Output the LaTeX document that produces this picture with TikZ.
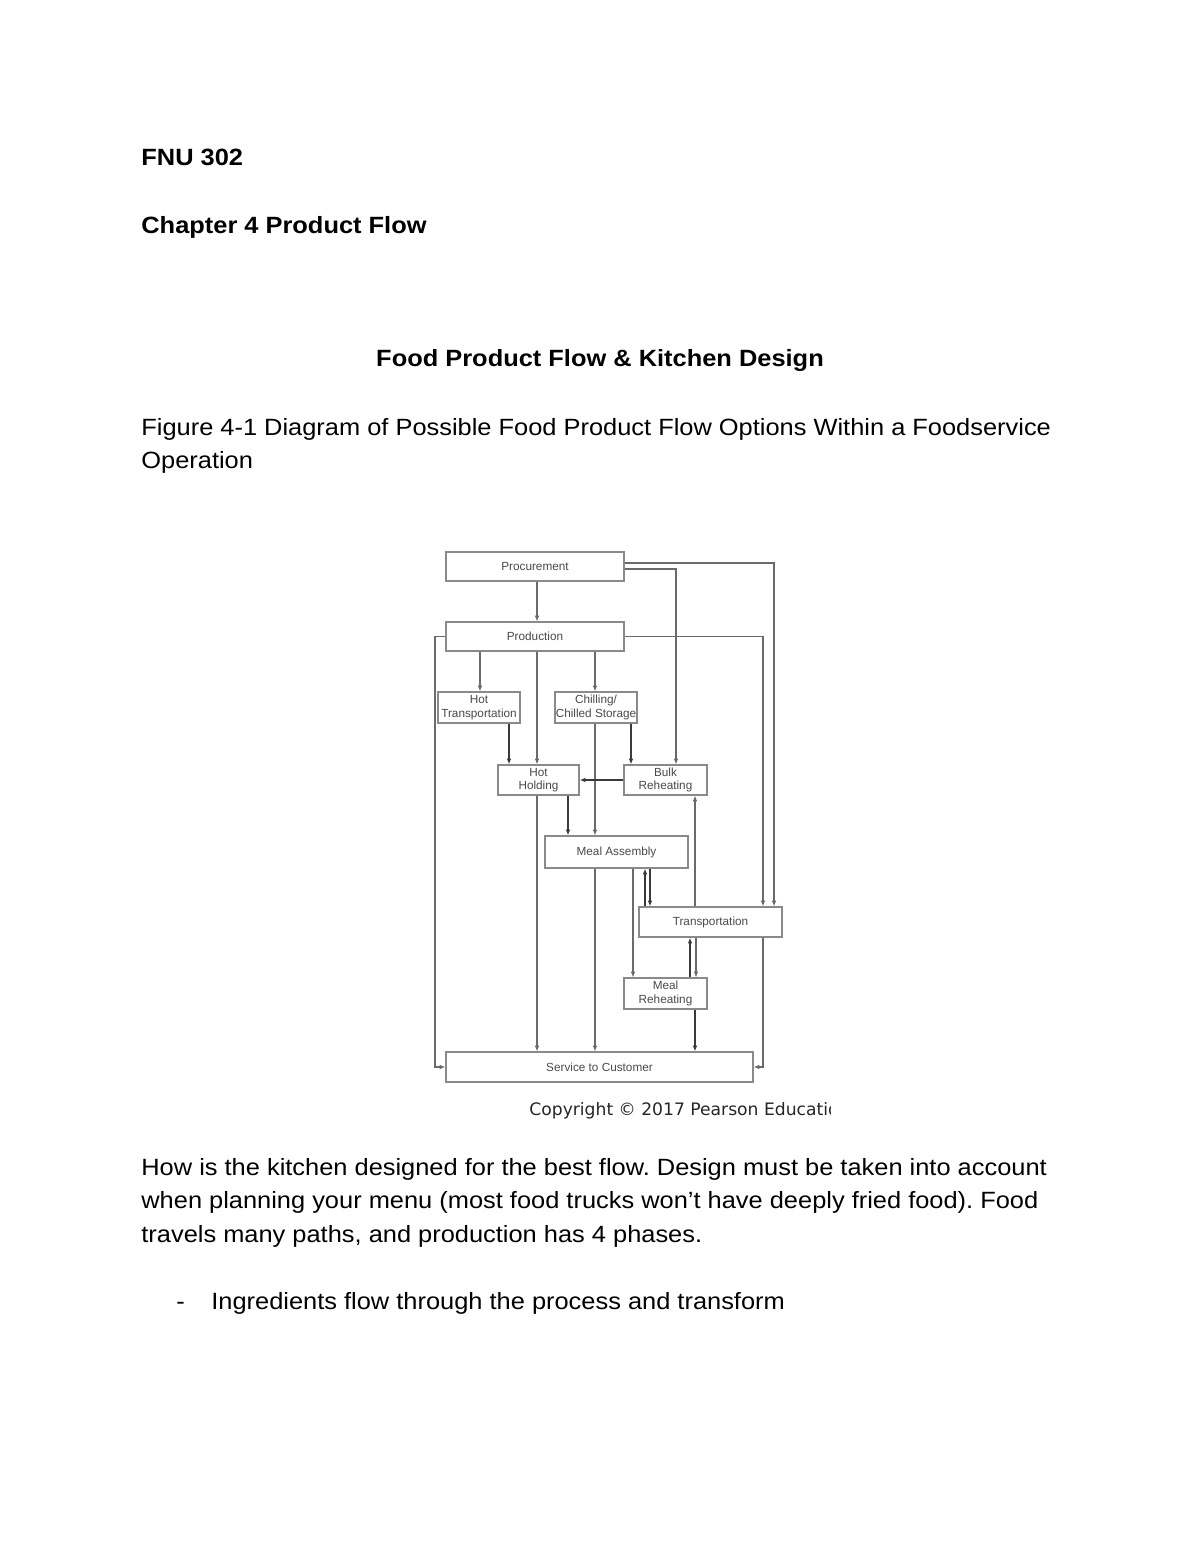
\documentclass[tikz,border=0pt]{standalone}
\usepackage{graphicx}
\usepackage{fontspec}
\setmainfont{Liberation Sans}
\newfontfamily\cpfont{DejaVu Sans}
\usetikzlibrary{arrows.meta,calc}
\definecolor{boxgray}{HTML}{8A8A8A}
\definecolor{linegray}{HTML}{6A6A6A}
\definecolor{darkline}{HTML}{3A3A3A}
\definecolor{txtgray}{HTML}{4A4A4A}
\newcommand\wtxt[1]{\scalebox{1.08}[1]{#1}}
\frenchspacing
\begin{document}
\begin{tikzpicture}[x=0.51pt,y=-0.51pt,
  box/.style={draw=boxgray, line width=0.6pt, inner sep=0pt, font=\fontsize{6}{6.8}\selectfont, text=txtgray, align=center},
  arr/.style={draw=linegray, line width=0.55pt, -{Latex[length=3pt,width=2.4pt]}},
  darr/.style={arr, draw=darkline, line width=0.7pt},
  txt/.style={anchor=base west, inner sep=0pt, font=\fontsize{12}{14}\selectfont},
  btxt/.style={txt, font=\bfseries\fontsize{12}{14}\selectfont}]
\useasboundingbox[fill=white] (0,0) rectangle (1200,1553);

% page text
\node[btxt] (t1) at (141,166) {\wtxt{FNU 302}};
\node[btxt] (t2) at (141,234) {\wtxt{Chapter 4 Product Flow}};
\node[btxt, anchor=base] (t3) at (600,366) {\wtxt{Food Product Flow \& Kitchen Design}};
\node[txt] (t4) at (141,435) {\wtxt{Figure 4-1 Diagram of Possible Food Product Flow Options Within a Foodservice}};
\node[txt] (t5) at (141,468) {\wtxt{Operation}};
\node[txt] (b1) at (141,1175) {\wtxt{How is the kitchen designed for the best flow. Design must be taken into account}};
\node[txt] (b2) at (141,1208) {\wtxt{when planning your menu (most food trucks won’t have deeply fried food). Food}};
\node[txt] (b3) at (141,1242) {\wtxt{travels many paths, and production has 4 phases.}};
\node[txt] (b4) at (176,1309) {\wtxt{-}};
\node[txt] (b5) at (211,1309) {\wtxt{Ingredients flow through the process and transform}};
\begin{scope}
  \clip (500,1090) rectangle (830,1125);
  \node[anchor=base west, inner sep=0pt, font=\cpfont\fontsize{8.75}{10}\selectfont, text=black!85] (cp) at (529,1115) {Copyright © 2017 Pearson Education};
\end{scope}

% boxes
\node[box, minimum width=178*0.51pt, minimum height=29*0.51pt] (proc) at (535,566.5) {Procurement};
\node[box, minimum width=178*0.51pt, minimum height=29*0.51pt] (prod) at (535,636.5) {Production};
\node[box, minimum width=82*0.51pt, minimum height=31*0.51pt] (hott) at (479,707.5) {Hot\\Transportation};
\node[box, minimum width=82*0.51pt, minimum height=31*0.51pt] (chill) at (596,707.5) {Chilling/\\Chilled Storage};
\node[box, minimum width=81*0.51pt, minimum height=30*0.51pt] (hh) at (538.5,780) {Hot\\Holding};
\node[box, minimum width=83*0.51pt, minimum height=30*0.51pt] (bulk) at (665.5,780) {Bulk\\Reheating};
\node[box, minimum width=143*0.51pt, minimum height=32*0.51pt] (ma) at (616.5,852) {Meal Assembly};
\node[box, minimum width=143*0.51pt, minimum height=30*0.51pt] (trans) at (710.5,922) {Transportation};
\node[box, minimum width=83*0.51pt, minimum height=31*0.51pt] (mr) at (665.5,993.5) {Meal\\Reheating};
\node[box, minimum width=307*0.51pt, minimum height=30*0.51pt] (svc) at (599.5,1067) {Service to Customer};

% columns and rows
\foreach \c in {435,480,509,537,568,595,631,633,645,650,676,690,695,696,763,774}
  \coordinate (c\c) at (\c,0);
\coordinate (r563) at (0,563);
\coordinate (r569) at (0,569);

% connectors
\draw[arr] (proc.east |- r563) -| (trans.north -| c774);
\draw[arr] (proc.east |- r569) -| (bulk.north -| c676);
\draw[arr] (proc.south -| c537) -- (prod.north -| c537);
\draw[arr] (prod.west) -| (c435 |- svc.west) -- (svc.west);
\draw[arr] (prod.east) -| (trans.north -| c763);
\draw[arr] (prod.south -| c480) -- (hott.north -| c480);
\draw[arr] (prod.south -| c537) -- (hh.north -| c537);
\draw[arr] (prod.south -| c595) -- (chill.north -| c595);
\draw[darr] (hott.south -| c509) -- (hh.north -| c509);
\draw[darr] (chill.south -| c631) -- (bulk.north -| c631);
\draw[arr] (chill.south -| c595) -- (ma.north -| c595);
\draw[darr] (bulk.west) -- (hh.east);
\draw[darr] (hh.south -| c568) -- (ma.north -| c568);
\draw[arr] (hh.south -| c537) -- (svc.north -| c537);
\draw[arr] (trans.north -| c695) -- (bulk.south -| c695);
\draw[arr] (ma.south -| c595) -- (svc.north -| c595);
\draw[arr] (ma.south -| c633) -- (mr.north -| c633);
\draw[darr] (trans.north -| c645) -- (ma.south -| c645);
\draw[darr] (ma.south -| c650) -- (trans.north -| c650);
\draw[darr] (mr.north -| c690) -- (trans.south -| c690);
\draw[arr] (trans.south -| c696) -- (mr.north -| c696);
\draw[darr] (mr.south -| c695) -- (svc.north -| c695);
\draw[arr] (trans.south -| c763) |- (svc.east);
\end{tikzpicture}
\end{document}
